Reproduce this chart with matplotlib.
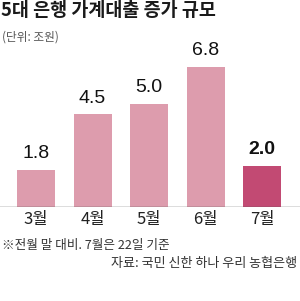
import matplotlib
matplotlib.use("Agg")
import matplotlib.pyplot as plt
from matplotlib import font_manager as fm

months = ["3월", "4월", "5월", "6월", "7월"]
values = [1.8, 4.5, 5.0, 6.8, 2.0]
value_labels = ["1.8", "4.5", "5.0", "6.8", "2.0"]
title = "5대 은행 가계대출 증가 규모"
unit = "(단위: 조원)"
note = "※전월 말 대비. 7월은 22일 기준"
source = "자료: 국민 신한 하나 우리 농협은행"

KR = ["Noto Sans CJK KR", "DejaVu Sans"]
names = {f.name for f in fm.fontManager.ttflist}
NUM = ["Liberation Sans Narrow"] if "Liberation Sans Narrow" in names else ["Liberation Sans"]

W, H = 300, 301
fig = plt.figure(figsize=(W / 100, H / 100), dpi=100)

def fx(px):
    return px / W

def fy(py):
    return 1 - py / H

base_px, top_px = 206.7, 60
ax = fig.add_axes([0, fy(base_px), 1, (base_px - top_px) / H])
spacing = 56.5
c0 = 36
ax.set_xlim(-c0 / spacing, (W - c0) / spacing)
ax.set_ylim(0, (base_px - top_px) / 20.6)

colors = ["#dd9cad"] * 4 + ["#c24a73"]
weights = ["normal"] * 4 + ["bold"]
x = list(range(len(values)))
ax.bar(x, values, width=38 / spacing, color=colors, zorder=2)
for xi, v, lab, wt in zip(x, values, value_labels, weights):
    ax.text(xi, v + 0.35, lab, ha="center", va="bottom", fontsize=14,
            family=NUM, color="#111111", fontweight=wt, clip_on=False)
ax.axhline(0, color="#555555", lw=1.0, zorder=3)
for s in ax.spines.values():
    s.set_visible(False)
ax.set_yticks([])
ax.set_xticks(x)
ax.set_xticklabels(months, family=KR, fontsize=12, color="#222222")
ax.tick_params(axis="x", length=0, pad=3)

fig.text(fx(1), fy(11), title, family=KR, fontsize=13.3, fontweight="bold",
         va="center", ha="left", color="#1a1a1a")
fig.text(fx(2), fy(37.5), unit, family=KR, fontsize=8.4, va="center",
         ha="left", color="#555555")
fig.text(fx(2), fy(246), note, family=KR, fontsize=9.1, va="center",
         ha="left", color="#333333")
fig.text(fx(297), fy(264), source, family=KR, fontsize=9.4, va="center",
         ha="right", color="#333333")

fig.savefig("out.png", dpi=100, facecolor="white")
